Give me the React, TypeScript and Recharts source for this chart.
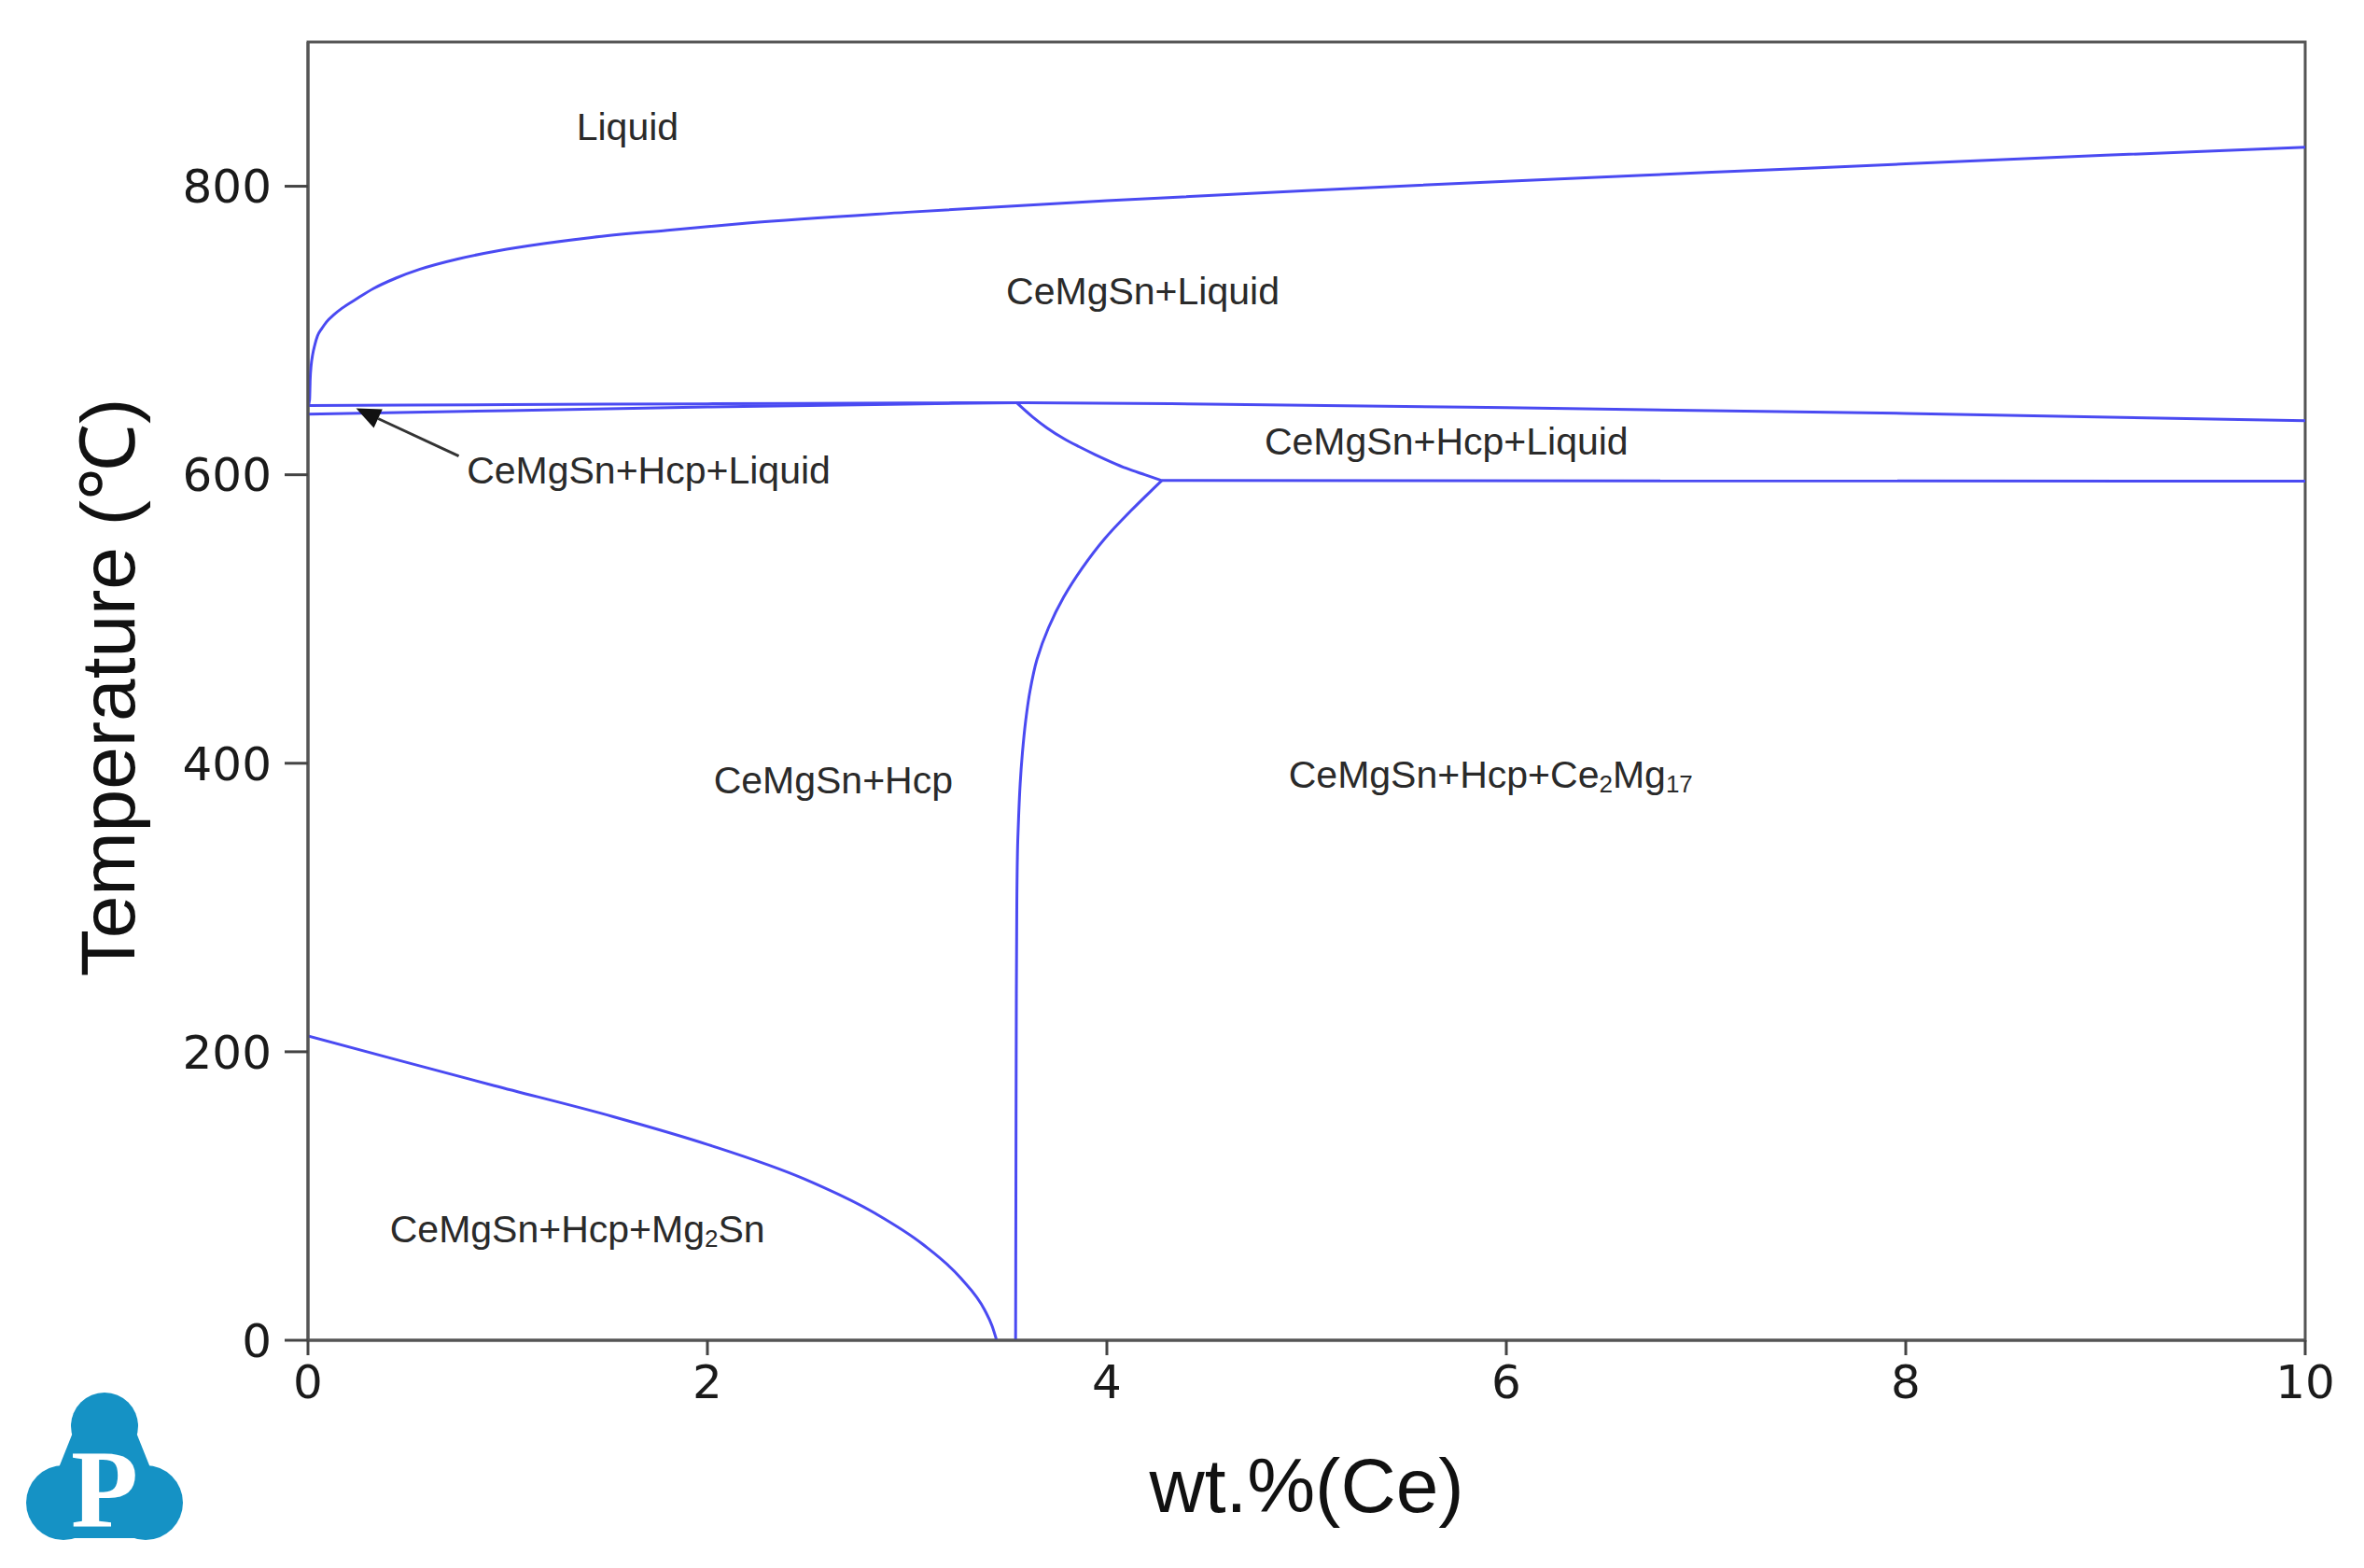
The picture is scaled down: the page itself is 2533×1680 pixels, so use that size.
import React from 'react';
import { LineChart, Line, XAxis, YAxis, ReferenceArea, ReferenceDot, ReferenceLine } from 'recharts';

// Phase boundaries: x = wt.% Ce, t = temperature (°C)
const liquidus = [
  { x: 0, t: 647.5 }, { x: 0.008, t: 652 }, { x: 0.011, t: 666 }, { x: 0.016, t: 676 },
  { x: 0.023, t: 683 }, { x: 0.035, t: 690.5 }, { x: 0.047, t: 696 }, { x: 0.07, t: 701.5 },
  { x: 0.093, t: 706 }, { x: 0.13, t: 711 }, { x: 0.171, t: 715.5 }, { x: 0.25, t: 722.5 },
  { x: 0.327, t: 729 }, { x: 0.44, t: 736.3 }, { x: 0.561, t: 742.5 }, { x: 0.75, t: 749.6 },
  { x: 0.95, t: 755.2 }, { x: 1.18, t: 760.2 }, { x: 1.42, t: 764.5 }, { x: 1.8, t: 769.5 },
  { x: 2.2, t: 774.5 }, { x: 3, t: 782 }, { x: 4, t: 790 }, { x: 5, t: 797 },
  { x: 6, t: 803.5 }, { x: 7, t: 809.5 }, { x: 8, t: 815.5 }, { x: 9, t: 821.5 }, { x: 10, t: 827 },
];

const liquidThreePhase = [
  { x: 0, t: 648 }, { x: 1, t: 648.6 }, { x: 2, t: 649.2 }, { x: 3, t: 649.7 },
  { x: 3.55, t: 650 }, { x: 4.5, t: 649 }, { x: 6, t: 646.5 }, { x: 8, t: 642.5 }, { x: 10, t: 637.5 },
];

const hcpThreePhaseLeft = [
  { x: 0, t: 642 }, { x: 1, t: 644.5 }, { x: 2, t: 647 }, { x: 3, t: 649 }, { x: 3.55, t: 650 },
];

const hcpThreePhaseRight = [
  { x: 3.548, t: 650 }, { x: 3.629, t: 640 }, { x: 3.7, t: 632.5 }, { x: 3.785, t: 625 },
  { x: 3.86, t: 619.5 }, { x: 3.941, t: 614 }, { x: 4.02, t: 609 }, { x: 4.097, t: 604.5 },
  { x: 4.19, t: 600 }, { x: 4.275, t: 596 },
];

const invariantLine = [
  { x: 4.275, t: 596 }, { x: 10, t: 595.5 },
];

// listed from 0 °C upward
const ce2mg17Solvus = [
  { x: 3.543, t: 0 }, { x: 3.5445, t: 100 }, { x: 3.546, t: 200 }, { x: 3.549, t: 300 },
  { x: 3.554, t: 347 }, { x: 3.5585, t: 364 }, { x: 3.566, t: 386 }, { x: 3.577, t: 407 },
  { x: 3.593, t: 429 }, { x: 3.615, t: 450 }, { x: 3.65, t: 472 }, { x: 3.708, t: 494 },
  { x: 3.783, t: 515 }, { x: 3.875, t: 535 }, { x: 3.985, t: 555 }, { x: 4.12, t: 575 },
  { x: 4.23, t: 590 }, { x: 4.275, t: 596 },
];

const mg2snSolvus = [
  { x: 0, t: 211 }, { x: 0.456, t: 194 }, { x: 0.933, t: 176.5 }, { x: 1.529, t: 155 },
  { x: 2.006, t: 135.5 }, { x: 2.482, t: 112 }, { x: 2.84, t: 88 }, { x: 3.079, t: 66.5 },
  { x: 3.269, t: 43 }, { x: 3.388, t: 21 }, { x: 3.425, t: 10 }, { x: 3.448, t: 0 },
];

const boundaries: { data: any[]; curve: any }[] = [
  { data: liquidus, curve: 'monotoneX' },
  { data: liquidThreePhase, curve: 'monotoneX' },
  { data: hcpThreePhaseLeft, curve: 'linear' },
  { data: hcpThreePhaseRight, curve: 'monotoneX' },
  { data: invariantLine, curve: 'linear' },
  { data: ce2mg17Solvus, curve: 'monotoneY' },
  { data: mg2snSolvus, curve: 'monotoneX' },
];

const xTicks = [0, 2, 4, 6, 8, 10];
const yTicks = [0, 200, 400, 600, 800];

// Region labels: pieces of [text, isSubscript]
const regionLabels = [
  { x: 1.6, t: 841, anchor: 'middle', parts: [['Liquid', false]] },
  { x: 4.18, t: 727, anchor: 'middle', parts: [['CeMgSn+Liquid', false]] },
  { x: 0.795, t: 603, anchor: 'start', parts: [['CeMgSn+Hcp+Liquid', false]] },
  { x: 5.7, t: 623, anchor: 'middle', parts: [['CeMgSn+Hcp+Liquid', false]] },
  { x: 2.63, t: 388, anchor: 'middle', parts: [['CeMgSn+Hcp', false]] },
  { x: 4.91, t: 392, anchor: 'start', parts: [['CeMgSn+Hcp+Ce', false], ['2', true], ['Mg', false], ['17', true]] },
  { x: 0.41, t: 77, anchor: 'start', parts: [['CeMgSn+Hcp+Mg', false], ['2', true], ['Sn', false]] },
];

const arrowSegment = [{ x: 0.755, y: 613 }, { x: 0.241, y: 646 }];

const LINE_COLOR = '#4a4af2';

const ArrowShape = (p: any) => {
  const { x1, y1, x2, y2 } = p;
  const ang = Math.atan2(y2 - y1, x2 - x1);
  const L = 26, W = 11;
  const bx = x2 - L * Math.cos(ang), by = y2 - L * Math.sin(ang);
  const px = -Math.sin(ang) * W, py = Math.cos(ang) * W;
  return (
    <g>
      <line x1={x1} y1={y1} x2={bx} y2={by} stroke="#333" strokeWidth={3} />
      <polygon points={`${x2},${y2} ${bx + px},${by + py} ${bx - px},${by - py}`} fill="#111" />
    </g>
  );
};

const makeLabelShape = (lab: any) => (p: any) => (
  <text
    x={p.cx}
    y={p.cy}
    textAnchor={lab.anchor}
    dominantBaseline="central"
    fontFamily="'Liberation Sans', Arial, sans-serif"
    fontSize={41}
    fill="#2a2a2a"
  >
    {lab.parts.map((pt: any, i: number) =>
      pt[1] ? (
        <tspan key={i} fontSize={26} dy={10}>{pt[0]}</tspan>
      ) : (
        <tspan key={i} fontSize={41} dy={i > 0 && lab.parts[i - 1][1] ? -10 : 0}>{pt[0]}</tspan>
      )
    )}
  </text>
);

const Logo = () => (
  <svg width={230} height={200} style={{ position: 'absolute', left: 0, top: 1470 }}>
    <g fill="#1592C5">
      <circle cx={112} cy={58} r={36} />
      <path d="M 80 60 L 144 60 L 168 120 L 56 120 Z" />
      <circle cx={68} cy={140} r={40} />
      <circle cx={156} cy={140} r={40} />
      <rect x={68} y={100} width={88} height={78} />
    </g>
    <text x={112} y={166} textAnchor="middle" fontFamily="'Liberation Serif', 'DejaVu Serif', serif" fontWeight="bold" fontSize={118} fill="#fff">P</text>
  </svg>
);

export default function App() {
  return (
    <div style={{ position: 'absolute', left: 0, top: 0, width: 2533, height: 1680, background: '#fff' }}>
      <LineChart width={2533} height={1680} margin={{ top: 45, right: 63, left: 200, bottom: 144 }}>
        <XAxis
          type="number"
          dataKey="x"
          domain={[0, 10]}
          ticks={xTicks}
          allowDataOverflow
          height={100}
          tickSize={16}
          tickMargin={10}
          stroke="#555"
          strokeWidth={3}
          tick={{ fontFamily: "'DejaVu Sans', sans-serif", fontSize: 50, fill: '#1a1a1a' }}
          tickLine={{ stroke: '#444', strokeWidth: 3 }}
          label={(props: any) => {
            const vb = props.viewBox || { x: 330, y: 1436, width: 2140 };
            return (
              <text x={vb.x + vb.width / 2} y={vb.y + 155} textAnchor="middle" dominantBaseline="central"
                fontFamily="'Liberation Sans', Arial, sans-serif" fontSize={82} fill="#111">wt.%(Ce)</text>
            );
          }}
        />
        <YAxis
          type="number"
          dataKey="t"
          domain={[0, 900]}
          ticks={yTicks}
          allowDataOverflow
          width={130}
          tickSize={25}
          tickMargin={14}
          stroke="#555"
          strokeWidth={3}
          tick={{ fontFamily: "'DejaVu Sans', sans-serif", fontSize: 50, fill: '#1a1a1a' }}
          tickLine={{ stroke: '#444', strokeWidth: 3 }}
          label={(props: any) => {
            const vb = props.viewBox || { x: 200, y: 45, height: 1391 };
            const cx = vb.x - 85;
            const cy = vb.y + vb.height / 2 - 4;
            return (
              <text x={cx} y={cy} textAnchor="middle" dominantBaseline="central" transform={`rotate(-90 ${cx} ${cy})`}
                fontFamily="'Liberation Sans', Arial, sans-serif" fontSize={82} fill="#111">Temperature (℃)</text>
            );
          }}
        />
        <ReferenceArea x1={0} x2={10} y1={0} y2={900} fill="none" stroke="#555" strokeWidth={3} ifOverflow="visible" />
        {boundaries.map((b, i) => (
          <Line
            key={i}
            data={b.data}
            dataKey="t"
            type={b.curve}
            stroke={LINE_COLOR}
            strokeWidth={3}
            dot={false}
            activeDot={false}
            isAnimationActive={false}
          />
        ))}
        <ReferenceLine segment={arrowSegment} shape={ArrowShape} ifOverflow="visible" />
        {regionLabels.map((lab, i) => (
          <ReferenceDot key={i} x={lab.x} y={lab.t} r={0} ifOverflow="visible" shape={makeLabelShape(lab)} />
        ))}
      </LineChart>
      <Logo />
    </div>
  );
}
